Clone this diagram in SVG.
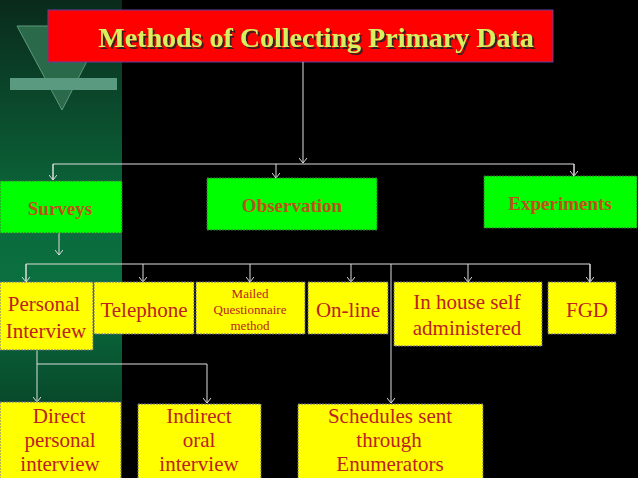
<svg xmlns="http://www.w3.org/2000/svg" width="638" height="478" viewBox="0 0 638 478">
<defs>
<linearGradient id="pan" x1="0" y1="0" x2="0" y2="1"><stop offset="0" stop-color="#0a2a1c"/><stop offset="0.45" stop-color="#0b6a3c"/><stop offset="0.6" stop-color="#0a7040"/><stop offset="1" stop-color="#06301c"/></linearGradient>
<filter id="sh" x="-5%" y="-20%" width="110%" height="140%"><feDropShadow dx="2" dy="2" stdDeviation="0.5" flood-color="#222" flood-opacity="0.9"/></filter>
<marker id="ar" markerWidth="8" markerHeight="8" refX="7" refY="4" orient="auto" markerUnits="userSpaceOnUse"><path d="M2,0 L7,4 L2,8" fill="none" stroke="#ddd" stroke-width="1"/></marker>
<style>
.y{fill:#ffff00;stroke:#6a6a9a;stroke-width:1;stroke-dasharray:2 1}
.g{fill:#00ff00;stroke:#3a6a3a;stroke-width:1;stroke-dasharray:2 1}
.t{font-family:"Liberation Serif",serif;fill:#b22;text-anchor:middle}
.gt{font-family:"Liberation Serif",serif;fill:#c0501a;font-weight:bold;font-size:19px;text-anchor:middle}
.c{fill:none;stroke:#ddd;stroke-width:1}
</style>
</defs>
<rect width="638" height="478" fill="#000"/>
<rect x="0" y="0" width="122" height="478" fill="url(#pan)"/>
<g id="logo"><polygon points="17,26 105,26 62,110" fill="#2a6a4a" stroke="#5a9a7a"/><rect x="10" y="78" width="107" height="12" fill="#5a9a80"/></g>
<g id="title"><rect x="48" y="10" width="505" height="52" fill="#ff0000" stroke="#6040a0"/><text x="316" y="47" font-family="Liberation Serif,serif" font-weight="bold" font-size="28" text-anchor="middle" fill="#d8f060" filter="url(#sh)">Methods of Collecting Primary Data</text></g>
<g id="connectors">
<path class="c" d="M303,62V163" marker-end="url(#ar)"/>
<path class="c" d="M53,180V164H574V176"/>
<path class="c" d="M53,164V180" marker-end="url(#ar)"/>
<path class="c" d="M276,164V178" marker-end="url(#ar)"/>
<path class="c" d="M574,164V176" marker-end="url(#ar)"/>
<path class="c" d="M59,233V255" marker-end="url(#ar)"/>
<path class="c" d="M26,282V264H590V282"/>
<path class="c" d="M26,264V282" marker-end="url(#ar)"/>
<path class="c" d="M143,264V282" marker-end="url(#ar)"/>
<path class="c" d="M250,264V282" marker-end="url(#ar)"/>
<path class="c" d="M351,264V282" marker-end="url(#ar)"/>
<path class="c" d="M468,264V282" marker-end="url(#ar)"/>
<path class="c" d="M590,264V282" marker-end="url(#ar)"/>
<path class="c" d="M391,264V403" marker-end="url(#ar)"/>
<path class="c" d="M37,350V402" marker-end="url(#ar)"/>
<path class="c" d="M37,364H207V403" marker-end="url(#ar)"/>
</g>
<g id="surveys"><rect class="g" x="0" y="181" width="122" height="52"/><text class="gt" x="60" y="215">Surveys</text></g>
<g id="observation"><rect class="g" x="207" y="178" width="170" height="52"/><text class="gt" x="292" y="212">Observation</text></g>
<g id="experiments"><rect class="g" x="484" y="176" width="153" height="52"/><text class="gt" x="560" y="210">Experiments</text></g>
<g id="personal"><rect class="y" x="0" y="282" width="93" height="68"/><text class="t" font-size="21" x="44" y="311">Personal</text><text class="t" font-size="21" x="46" y="338">Interview</text></g>
<g id="telephone"><rect class="y" x="94" y="282" width="100" height="52"/><text class="t" font-size="21" x="144" y="317">Telephone</text></g>
<g id="mailed"><rect class="y" x="196" y="282" width="109" height="52"/><text class="t" font-size="13" x="250" y="298">Mailed</text><text class="t" font-size="13" x="250" y="314">Questionnaire</text><text class="t" font-size="13" x="250" y="330">method</text></g>
<g id="online"><rect class="y" x="308" y="282" width="80" height="52"/><text class="t" font-size="21" x="348" y="317">On-line</text></g>
<g id="inhouse"><rect class="y" x="394" y="282" width="148" height="64"/><text class="t" font-size="21" x="467" y="309">In house self</text><text class="t" font-size="21" x="467" y="335">administered</text></g>
<g id="fgd"><rect class="y" x="548" y="282" width="68" height="52"/><text class="t" font-size="21" x="587" y="317">FGD</text></g>
<g id="direct"><rect class="y" x="0" y="402" width="121" height="78"/><text class="t" font-size="21" x="59" y="423">Direct</text><text class="t" font-size="21" x="60" y="447">personal</text><text class="t" font-size="21" x="60" y="471">interview</text></g>
<g id="indirect"><rect class="y" x="138" y="404" width="123" height="76"/><text class="t" font-size="21" x="199" y="423">Indirect</text><text class="t" font-size="21" x="199" y="447">oral</text><text class="t" font-size="21" x="199" y="471">interview</text></g>
<g id="schedules"><rect class="y" x="298" y="404" width="185" height="76"/><text class="t" font-size="21" x="390" y="423">Schedules sent</text><text class="t" font-size="21" x="389" y="447">through</text><text class="t" font-size="21" x="390" y="471">Enumerators</text></g>
</svg>
